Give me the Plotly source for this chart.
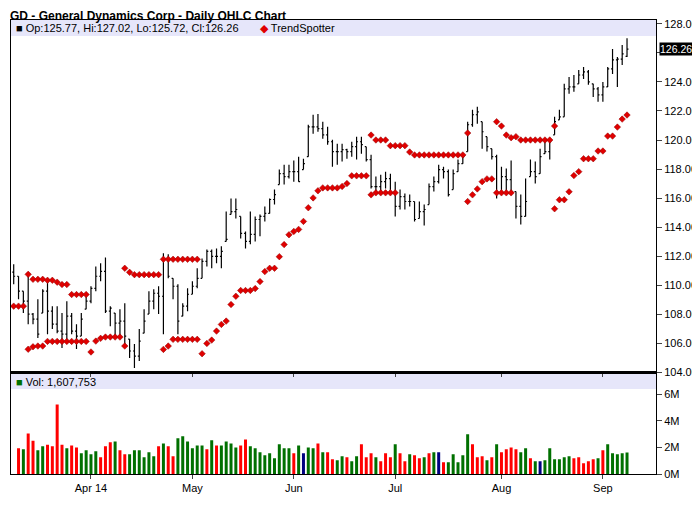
import plotly.graph_objects as go
from plotly.subplots import make_subplots

N = 128
idx = list(range(N))

high = [111.43,110.61,109.58,110.74,108.07,109.03,109.71,110.47,108.55,108.55,
        108.07,108.89,108.07,107.31,108.07,109.37,109.92,111.29,111.5,111.91,
        108.55,108.07,108.34,108.75,106.28,105.94,106.97,108.34,109.58,109.71,
        109.92,112.19,112.12,110.47,110.06,108.75,109.78,110.26,111.16,111.84,
        112.46,112.46,112.53,112.67,115.07,115.97,115.97,114.73,113.7,115.07,
        114.73,114.87,115.42,115.97,116.58,117.96,118.3,118.3,118.58,118.85,
        118.71,121.05,121.74,121.8,121.26,120.91,120.02,119.74,119.74,119.4,
        119.88,120.23,120.23,119.54,118.99,117.48,117.61,117.82,117.68,117.13,
        116.58,116.31,116.24,115.76,115.76,115.55,117.0,117.48,118.3,118.16,
        117.96,117.96,118.65,119.06,121.26,122.08,122.29,121.26,120.23,119.4,
        118.99,118.16,118.03,118.58,116.45,116.24,117.34,118.65,118.51,119.4,
        120.02,120.16,121.6,122.08,123.87,124.35,124.48,124.83,125.03,124.83,
        123.87,123.66,124.0,125.03,126.27,125.72,126.55,127.02]
low = [110.06,109.03,108.07,107.31,107.31,106.35,108.07,106.62,106.97,106.69,
       105.66,106.14,106.62,105.59,106.49,108.34,108.75,109.58,110.26,108.07,
       107.17,106.49,106.35,105.66,104.97,104.29,104.77,106.69,108.0,108.34,
       108.0,106.62,110.47,109.03,106.62,107.86,108.2,109.37,109.78,110.47,
       111.29,111.16,111.5,111.16,113.01,114.87,114.59,113.22,112.53,112.81,
       113.01,113.36,114.39,114.94,115.55,116.93,116.93,117.34,117.13,117.13,
       117.96,118.85,120.43,120.57,120.09,119.68,118.16,118.3,118.51,118.71,
       118.85,118.65,119.06,118.51,116.65,116.24,116.31,116.65,116.31,114.73,
       115.21,115.21,115.42,114.39,114.59,114.11,115.55,116.45,117.0,117.34,
       116.1,116.58,117.82,118.37,119.2,120.91,121.12,119.4,119.2,118.65,
       115.97,116.45,116.31,116.31,114.59,114.18,114.73,117.48,117.0,117.68,
       119.06,118.65,120.36,121.39,121.6,123.18,123.32,123.87,124.21,123.8,
       122.97,122.63,122.63,123.66,124.55,123.66,125.17,125.72]
close = [110.61,109.58,108.89,108.0,107.65,106.62,109.58,108.2,107.31,106.83,
         106.62,107.86,106.83,106.49,107.65,108.89,109.78,110.61,110.95,108.2,
         108.41,107.38,107.52,106.49,105.46,105.11,106.14,107.52,108.89,109.44,
         109.23,111.78,110.61,109.92,107.52,108.55,109.37,109.92,110.47,111.64,
         112.33,111.98,111.98,112.33,113.15,115.07,115.21,113.56,113.01,113.49,
         114.52,114.73,114.94,115.9,116.24,117.68,117.48,117.82,117.82,117.13,
         118.37,120.91,120.91,120.78,120.36,119.88,119.2,119.2,119.33,119.2,
         119.54,119.88,119.68,118.65,116.79,116.79,117.13,117.34,116.45,115.42,
         116.1,115.76,115.76,114.52,115.07,115.21,116.79,117.13,117.96,117.82,
         116.24,117.68,118.37,118.85,121.05,121.74,121.94,120.57,119.54,118.85,
         116.45,117.48,117.27,116.45,115.42,114.73,115.76,117.82,117.48,118.85,
         119.2,119.88,121.26,121.6,123.52,123.66,123.66,124.48,124.69,124.0,
         123.52,123.11,123.66,124.9,125.52,125.58,125.93,126.26]
open_ = [110.9,110.61,109.58,108.89,108.0,107.65,108.07,109.58,108.2,107.31,
         106.83,106.62,107.86,106.83,106.49,108.34,108.89,109.78,110.61,110.95,
         108.2,108.07,107.38,107.52,106.28,105.46,105.11,106.69,108.0,108.89,
         109.44,109.23,111.78,110.47,109.92,107.86,108.55,109.37,109.92,110.47,
         111.64,112.33,111.98,111.98,113.01,114.87,115.07,114.73,113.56,113.01,
         113.49,114.52,114.73,114.94,115.9,116.93,117.68,117.48,117.82,117.82,
         117.96,118.85,120.91,120.91,120.78,120.36,119.88,119.2,119.2,119.33,
         119.2,119.54,119.88,119.54,118.65,116.79,116.79,117.13,117.34,116.45,
         115.42,116.1,115.76,115.76,114.59,115.07,115.55,116.79,117.13,117.96,
         117.82,116.58,117.82,118.37,119.2,121.05,121.74,121.26,120.23,119.4,
         118.85,116.45,117.48,117.27,116.45,115.42,114.73,117.48,117.82,117.68,
         119.06,119.2,120.36,121.39,121.6,123.52,123.66,123.87,124.48,124.69,
         123.87,123.52,123.11,123.66,124.9,125.52,125.58,125.77]

ts_upper = ([108.55,108.55,108.55,110.74,110.40,110.40,110.40,110.33,110.33,110.2,
             110.04,110.04,109.35,109.35,109.35,109.35] + [None]*7 +
            [111.16,110.88,110.72,110.72,110.72,110.72,110.72,110.72,
             111.78,111.78,111.78,111.78,111.78,111.78,111.78,111.78] + [None]*35 +
            [120.34,120.0,120.0,120.0,119.61,119.61,119.61,119.61,119.17,
             118.97,118.97,118.97,118.97,118.97,118.97,118.97,118.97,118.97,118.97,118.97,
             120.48] + [None]*5 +
            [121.26,120.96,120.34,120.16,120.23,120.0,120.0,120.0,120.0,120.0,120.0,120.0,
             120.96] + [None]*15)
ts_lower = ([None]*3 +
            [105.58,105.75,105.8,105.8,106.12,106.12,106.12,106.12,106.12,106.12,106.12,
             106.12,106.12,105.39,106.14,106.33,106.42,106.42,106.42,106.42,105.8] + [None]*7 +
            [105.57,105.8,106.26,106.26,106.26,106.26,106.26,106.26,105.27,105.98,106.21,
             106.83,107.29,107.52,108.66,109.23,109.63,109.63,109.63,109.76,110.24,110.93,
             111.16,111.16,111.96,112.79,113.47,113.7,113.84,114.39,115.33,116.01,116.5,
             116.7,116.7,116.7,116.7,116.8,117.0,117.53,117.53,117.53,117.53,116.22,
             116.36,116.36,116.36,116.36,116.36] + [None]*14 +
            [115.76,116.22,116.63,117.13,117.32,117.32,116.36,116.36,116.36,116.36] + [None]*8 +
            [115.26,115.88,115.88,116.43,117.55,117.82,118.71,118.71,118.71,119.24,119.24,
             120.27,120.27,120.89,121.44,121.72])

volume_m = [None,1.93,1.85,3.05,2.5,1.78,2.08,2.2,2.08,5.22,2.2,1.93,2.15,2.0,1.55,1.78,1.48,1.7,1.25,
            2.08,2.38,2.45,1.78,1.48,1.48,1.78,1.78,1.25,1.63,1.33,2.08,2.3,2.08,1.33,2.68,
            2.83,2.45,1.93,2.15,2.15,1.85,2.53,2.15,2.15,2.45,2.3,2.0,2.15,2.6,2.08,1.93,
            1.63,1.4,1.55,1.18,2.23,1.93,1.93,1.55,2.15,1.55,2.0,1.93,2.3,1.63,1.63,1.1,
            1.03,1.33,1.25,0.95,1.33,2.23,1.25,1.55,1.25,0.95,1.55,1.25,2.23,1.55,0.95,1.48,
            1.4,1.18,1.25,1.55,1.63,1.63,0.88,0.88,1.48,0.88,1.4,2.98,2.23,1.25,1.33,1.03,
            1.25,2.23,1.63,1.85,2.0,1.85,1.63,1.93,1.18,0.95,0.95,1.03,1.93,1.1,1.1,1.25,
            1.33,1.18,1.25,0.8,0.95,1.1,1.18,1.78,2.23,1.55,1.48,1.55,1.61]
volume_dir = "xrgrrggrrrrgrrggggrrrgrrggggggrgrrggggggrgrggggrrgggggggggrgbggrgrrggrggrrrgrrrgrrgrrgrgbrgggggrrrgrgrrrrggrgbggggggrrrrrgrgggg"

tick_pos = [16, 37, 58, 79, 101, 122]
tick_text = ["Apr 14", "May", "Jun", "Jul", "Aug", "Sep"]
price_ticks = [104, 106, 108, 110, 112, 114, 116, 118, 120, 122, 124, 126, 128]
price_labels = ["104.00", "106.00", "108.00", "110.00", "112.00", "114.00", "116.00",
                "118.00", "120.00", "122.00", "124.00", "", "128.00"]

cmap = {"r": "#ff0000", "g": "#007000", "b": "#000080", "x": "#ffffff"}
vcolors = [cmap[c] for c in volume_dir[:N]]
vcolors += ["#007000"] * (N - len(vcolors))
vols = [None if v is None else v * 1e6 for v in volume_m]

fig = make_subplots(rows=2, cols=1, shared_xaxes=True, vertical_spacing=0.0044,
                    row_heights=[0.776, 0.22])
fig.add_trace(go.Ohlc(x=idx, open=open_, high=high, low=low, close=close,
                      increasing=dict(line=dict(color="black", width=1.2)),
                      decreasing=dict(line=dict(color="black", width=1.2)),
                      tickwidth=0.3, showlegend=False, hoverinfo="skip"), row=1, col=1)
for s in (ts_upper, ts_lower):
    fig.add_trace(go.Scatter(x=idx, y=s, mode="markers",
                             marker=dict(symbol="diamond", size=5, color="#e00000",
                                         line=dict(color="#900000", width=0.5)),
                             showlegend=False, hoverinfo="skip"), row=1, col=1)
fig.add_trace(go.Bar(x=idx, y=vols, marker=dict(color=vcolors, line=dict(width=0)),
                     width=0.62, showlegend=False, hoverinfo="skip"), row=2, col=1)

ax_common = dict(showline=True, linecolor="black", linewidth=1, mirror=True,
                 showgrid=False, zeroline=False)
fig.update_xaxes(range=[-0.56, 133], tickvals=tick_pos, ticktext=tick_text, ticks="outside",
                 ticklen=4, rangeslider=dict(visible=False), **ax_common)
fig.update_xaxes(showticklabels=False, row=1, col=1)
fig.update_xaxes(tickfont=dict(family="Liberation Sans", size=11, color="black"), row=2, col=1)
fig.update_yaxes(side="right", ticks="outside", ticklen=5, **ax_common,
                 tickfont=dict(family="Liberation Sans", size=11, color="black"))
fig.update_yaxes(range=[104, 128.27], tickvals=price_ticks, ticktext=price_labels, row=1, col=1)
fig.update_yaxes(range=[0, 7.5e6], tickvals=[0, 2e6, 4e6, 6e6],
                 ticktext=["0M", "2M", "4M", "6M"], row=2, col=1)

shapes = [
    dict(type="rect", xref="x domain", yref="paper", x0=0, x1=1, y0=0.9648, y1=1.0,
         fillcolor="#e6e6fa", line=dict(width=0), layer="below"),
    dict(type="rect", xref="x2 domain", yref="paper", x0=0, x1=1, y0=0.187, y1=0.22,
         fillcolor="#e6e6fa", line=dict(width=0), layer="below"),
    dict(type="line", xref="paper", yref="paper", x0=0, x1=1, y0=0.2245, y1=0.2245,
         line=dict(color="black", width=2)),
]
f = dict(family="Liberation Sans", size=11, color="black")
ann = [
    dict(text="<b>GD - General Dynamics Corp - Daily OHLC Chart</b>", xref="paper", yref="paper",
         x=-0.005, y=1.0, yshift=13, xanchor="left", yanchor="top", showarrow=False,
         font=dict(family="Liberation Sans", size=12, color="black")),
    dict(text="■ Op:125.77, Hi:127.02, Lo:125.72, Cl:126.26", xref="paper", yref="paper",
         x=0.005, y=0.999, xanchor="left", yanchor="top", showarrow=False, font=f),
    dict(text="<span style='color:#e00000'>◆</span> TrendSpotter", xref="paper", yref="paper",
         x=0.383, y=0.999, xanchor="left", yanchor="top", showarrow=False, font=f),
    dict(text="<span style='color:#007000'>■</span> Vol: 1,607,753", xref="paper", yref="paper",
         x=0.005, y=0.221, xanchor="left", yanchor="top", showarrow=False, font=f),
    dict(text="126.26", xref="paper", yref="y", x=1.0, y=126.26, xanchor="left", xshift=3,
         showarrow=False, bgcolor="black", borderpad=0,
         font=dict(family="Liberation Sans", size=10.5, color="white")),
]
fig.update_layout(width=692, height=504, margin=dict(l=2, r=37, t=12, b=38),
                  paper_bgcolor="white", plot_bgcolor="white", shapes=shapes, annotations=ann,
                  bargap=0.3)
fig.write_html("out.html")
